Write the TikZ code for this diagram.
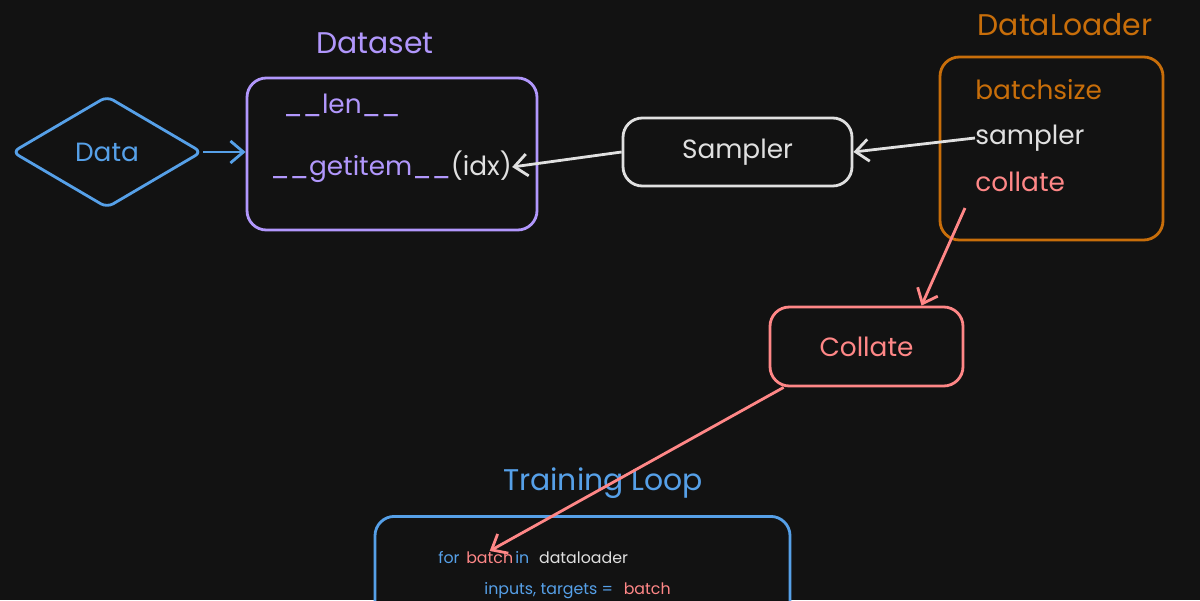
\documentclass[tikz,border=0pt]{standalone}
\usepackage{fontspec}
\setmainfont{Poppins}
\usepackage{xcolor}
\usepackage{tikz}
\usetikzlibrary{arrows.meta,calc,positioning,shapes.geometric}
\definecolor{bgdark}{RGB}{18,18,18}
\definecolor{dsblue}{RGB}{86,160,232}
\definecolor{dspurple}{RGB}{177,151,252}
\definecolor{dlorange}{RGB}{200,110,10}
\definecolor{clpink}{RGB}{255,135,135}
\definecolor{sgray}{RGB}{224,224,224}

\begin{document}
\begin{tikzpicture}[
  font=\fontsize{15}{18}\selectfont,
  box/.style={draw,line width=1.6pt,rounded corners=11pt,fill=bgdark},
  title/.style={font=\fontsize{17}{20}\selectfont},
  item/.style={anchor=west,inner sep=0pt},
  code/.style={font=\fontsize{9}{11}\selectfont,anchor=base west,inner sep=0pt},
  edge/.style={-{Straight Barb[length=2.6mm,width=4.4mm]},line width=1.6pt}
]
  \clip (0,0) rectangle (24,12);
  \fill[bgdark] (0,0) rectangle (24,12);

  \node[diamond,draw=dsblue,line width=1.6pt,rounded corners=4pt,text=dsblue,
    minimum width=3.8cm,minimum height=2.24cm] (data) at (2.14,8.96) {Data};

  \node[box,draw=dspurple,minimum width=5.8cm,minimum height=3.04cm] (dataset) at (7.84,8.92) {};
  \node[title,text=dspurple] (dstitle) at (7.5,11.14) {Dataset};
  \node[item,text=dspurple] (len) at (5.66,9.9) {\_\_len\_\_};
  \node[item,text=dspurple] (getitem) at (5.40,8.66) {\_\_getitem\_\_\textcolor{sgray}{(idx)}};

  \node[box,draw=sgray,text=sgray,minimum width=4.58cm,minimum height=1.36cm] (sampler) at (14.75,8.96) {Sampler};

  \node[box,draw=dlorange,minimum width=4.46cm,minimum height=3.66cm] (loader) at (21.03,9.03) {};
  \node[title,text=dlorange] (ldtitle) at (21.3,11.5) {DataLoader};
  \node[item,text=dlorange] (bsize) at (19.5,10.2) {batchsize};
  \node[item,text=sgray] (ldsampler) at (19.5,9.24) {sampler};
  \node[item,text=clpink] (ldcollate) at (19.5,8.36) {collate};
  \coordinate (cstart) at (19.3,7.84);

  \node[box,draw=clpink,text=clpink,minimum width=3.86cm,minimum height=1.58cm] (collate) at (17.33,5.07) {Collate};

  \node[title,text=dsblue] (tltitle) at (12.06,2.34) {Training Loop};
  \node[box,draw=dsblue,anchor=north,minimum width=8.3cm,minimum height=4cm] (loop) at (11.65,1.7) {};
  \node[code,text=dsblue] (for) at (8.76,0.74) {for};
  \node[code,text=clpink,base right=1.2mm of for] (batchA) {batch};
  \node[code,text=dsblue,base right=0.3mm of batchA] (in) {in};
  \node[code,text=sgray,base right=1.8mm of in] (dl) {dataloader};
  \node[code,text=dsblue] (unpack) at (9.68,0.12) {inputs, targets =};
  \node[code,text=clpink,base right=2mm of unpack] (batchB) {batch};

  \draw[edge,dsblue] (data.east) -- (data.east -| dataset.west);
  \draw[edge,sgray] (sampler.west) -- (getitem.east);
  \draw[edge,sgray] (ldsampler.west) -- (sampler.east);
  \draw[edge,clpink] (cstart) -- ($(collate.north)+(1.1,0)$);
  \draw[edge,clpink] ($(collate.south west)+(0.3,0)$) -- (batchA.north);
\end{tikzpicture}
\end{document}
